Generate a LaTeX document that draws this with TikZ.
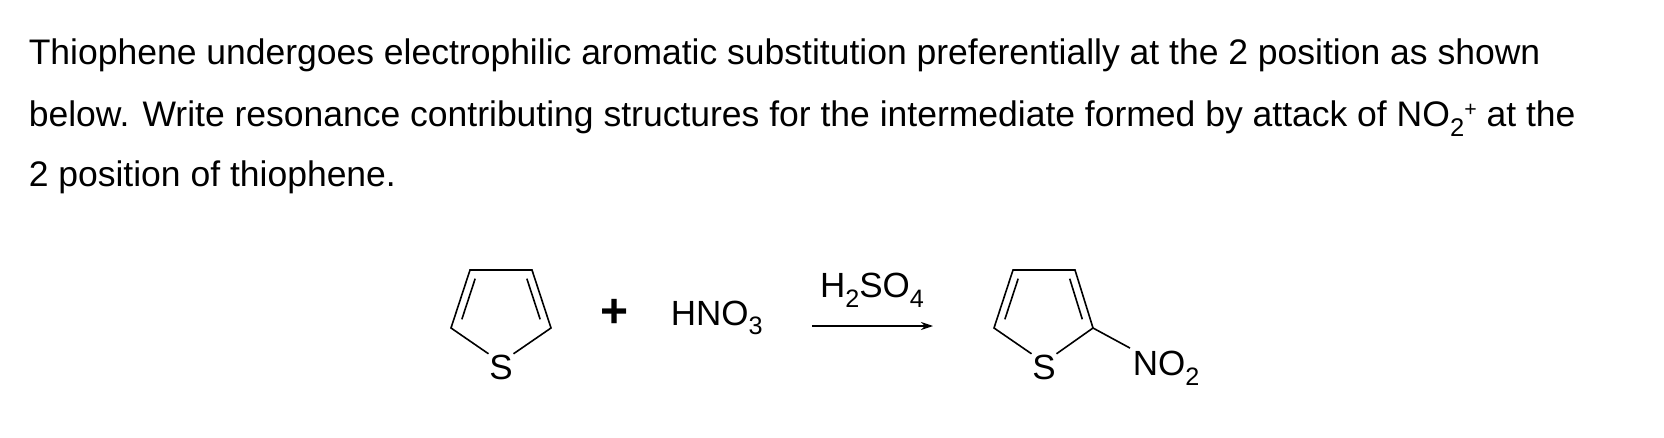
\documentclass[tikz,border=0pt]{standalone}
\usepackage{fontspec}
\setmainfont{Liberation Sans}
\usetikzlibrary{calc,arrows.meta}
\newcommand{\chsub}[1]{\raisebox{-0.28em}{\scalebox{0.72}{#1}}}
\newcommand{\chsup}[1]{\raisebox{0.3em}{\scalebox{0.6}{#1}}}
\begin{document}
\begin{tikzpicture}[x=1pt,y=-1pt,line width=1.6pt,
  txt/.style={anchor=base west,inner sep=0pt,font=\fontsize{35.5}{40}\selectfont},
  chem/.style={inner sep=0pt,font=\fontsize{35}{38}\selectfont},
  bond/.style={line width=1.6pt}]
\useasboundingbox (0,0) rectangle (1664,438);
\node[txt] (l1) at (28,65) {Thiophene undergoes electrophilic aromatic substitution preferentially at the 2 position as shown};
\node[txt] (l2) at (28,127) {below. Write resonance contributing structures for the intermediate formed by attack of NO\chsub{2}\chsup{+} at the};
\node[txt] (l3) at (28,187) {2 position of thiophene.};
% thiophene
\coordinate (a1) at (470,270); \coordinate (a2) at (532,270);
\coordinate (a3) at (551,328); \coordinate (a4) at (451,328);
\node[chem] (s1) at (501,367) {S};
\draw[bond] (s1.north west) -- (a4) -- (a1) -- (a2) -- (a3) -- (s1.north east);
\draw[bond] ($(a1)!0.15!(a4)+(8,0)$) -- ($(a4)!0.15!(a1)+(8,0)$);
\draw[bond] ($(a2)!0.15!(a3)+(-8,0)$) -- ($(a3)!0.15!(a2)+(-8,0)$);
\node[chem] (plus) at (615,313) {\fontsize{48}{48}\selectfont\textbf{+}};
\node[chem,anchor=west] (hno3) at (670,318) {HNO\chsub{3}};
\coordinate (ar1) at (812,326); \coordinate (ar2) at (933,326);
\draw[line width=1.6pt,-{Stealth[length=12pt,width=8pt]}] (ar1) -- (ar2);
\node[chem] (h2so4) at (872,290) {H\chsub{2}SO\chsub{4}};
% product
\coordinate (b1) at (1013,270); \coordinate (b2) at (1075,270);
\coordinate (b3) at (1093,328); \coordinate (b4) at (994,328);
\node[chem] (s2) at (1044,367) {S};
\node[chem,anchor=west] (no2) at (1132,368) {NO\chsub{2}};
\draw[bond] (s2.north west) -- (b4) -- (b1) -- (b2) -- (b3) -- (s2.north east);
\draw[bond] (b3) -- ($(no2.north west)+(-2,-2)$);
\draw[bond] ($(b1)!0.15!(b4)+(8,0)$) -- ($(b4)!0.15!(b1)+(8,0)$);
\draw[bond] ($(b2)!0.15!(b3)+(-8,0)$) -- ($(b3)!0.15!(b2)+(-8,0)$);
\end{tikzpicture}
\end{document}
